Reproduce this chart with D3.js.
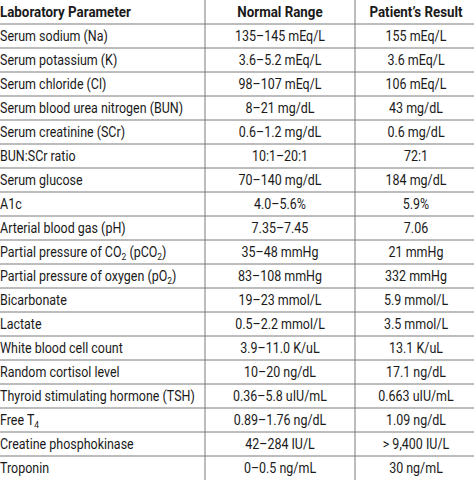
<!DOCTYPE html><html><head><meta charset="utf-8">
<script src="https://cdn.jsdelivr.net/npm/d3@7"></script>
<style>body{margin:0;background:#fff}</style></head><body><svg id="c" width="474" height="480"></svg>
<script>
const headers=["Laboratory Parameter","Normal Range","Patient’s Result"];
const params=["Serum sodium (Na)","Serum potassium (K)","Serum chloride (Cl)","Serum blood urea nitrogen (BUN)","Serum creatinine (SCr)","BUN:SCr ratio","Serum glucose","A1c","Arterial blood gas (pH)","Partial pressure of CO_2_ (pCO_2_)","Partial pressure of oxygen (pO_2_)","Bicarbonate","Lactate","White blood cell count","Random cortisol level","Thyroid stimulating hormone (TSH)","Free T_4_","Creatine phosphokinase","Troponin"];
const ranges=["135–145 mEq/L","3.6–5.2 mEq/L","98–107 mEq/L","8–21 mg/dL","0.6–1.2 mg/dL","10:1–20:1","70–140 mg/dL","4.0–5.6%","7.35–7.45","35–48 mmHg","83–108 mmHg","19–23 mmol/L","0.5–2.2 mmol/L","3.9–11.0 K/uL","10–20 ng/dL","0.36–5.8 uIU/mL","0.89–1.76 ng/dL","42–284 IU/L","0–0.5 ng/mL"];
const results=["155 mEq/L","3.6 mEq/L","106 mEq/L","43 mg/dL","0.6 mg/dL","72:1","184 mg/dL","5.9%","7.06","21 mmHg","332 mmHg","5.9 mmol/L","3.5 mmol/L","13.1 K/uL","17.1 ng/dL","0.663 uIU/mL","1.09 ng/dL","> 9,400 IU/L","30 ng/mL"];
const svg=d3.select("#c");
const rows=[headers,...params.map((p,i)=>[p,ranges[i],results[i]])];
const y=d3.scaleBand().domain(d3.range(rows.length)).range([0,480]);
const colX=[0,280,416], anchors=["start","middle","middle"];
svg.selectAll("line.h").data(d3.range(1,rows.length)).join("line")
 .attr("x1",0).attr("x2",474).attr("y1",d=>y(d)).attr("y2",d=>y(d)).attr("stroke","#7a7a7a").attr("stroke-width",1);
[205,355].forEach(x=>svg.append("line").attr("x1",x).attr("x2",x).attr("y1",0).attr("y2",480).attr("stroke","#7a7a7a"));
rows.forEach((r,i)=>{
 r.forEach((t,j)=>{
  const g=svg.append("g").attr("transform",`translate(${colX[j]},${y(i)+y.bandwidth()/2+5}) scale(0.89,1)`);
  const tx=g.append("text").attr("text-anchor",anchors[j]).attr("font-family","Roboto, sans-serif")
   .attr("font-size",i==0?15:14).attr("font-weight",i==0?"bold":"normal").attr("fill","#1a1a1a");
  t.split("_").forEach((s,k)=>{
   if(!s)return;
   const ts=tx.append("tspan").text(s);
   if(k%2==1) ts.attr("font-size",9.5).attr("dy",3);
   else if(k>0) ts.attr("dy",-3);
  });
 });
});
</script></body></html>
